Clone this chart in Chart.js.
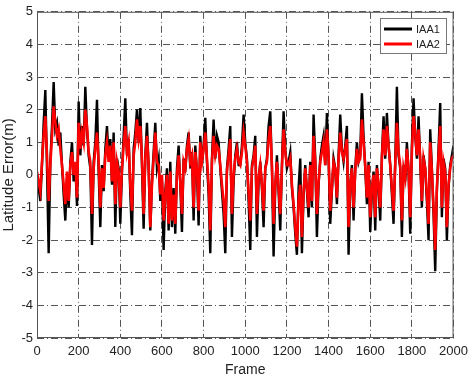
<!DOCTYPE html>
<html>
<head>
<meta charset="utf-8">
<script src="https://cdn.jsdelivr.net/npm/chart.js@4/dist/chart.umd.min.js"></script>
<style>
  html, body { margin: 0; padding: 0; background: #fff; }
  canvas { display: block; }
</style>
</head>
<body>
<canvas id="myChart" width="474" height="379"></canvas>
<script>
// latitude error (m), one value every 8 frames from 0 to 2000
const frameStep = 8;
const iaa1 = [
  0.0, -0.4, -0.8, 0.3, 1.6, 2.6, 0.2, -2.4, 0.4, 1.5,
  2.85, 1.4, 1.6, 0.9, 1.3, 0.3, -0.6, -1.4, -0.1, -1.0,
  0.4, 1.0, -0.2, 0.3, -0.95, 2.25, 0.6, 1.5, 0.9, 2.7,
  1.4, 0.6, 0.2, -2.15, 0.4, 1.0, 2.3, 0.1, -1.6, 0.3,
  -0.5, 0.8, 1.5, 0.5, 1.1, -0.3, 1.3, -1.6, 0.5, 0.2,
  -1.5, 0.1, 1.2, 2.35, 0.6, 1.1, -0.6, -1.85, 0.8, 1.3,
  2.0, 1.0, 2.05, 0.3, -1.65, 0.6, 1.6, 0.2, -1.7, -0.2,
  0.7, 1.6, 0.2, 0.5, -0.8, -0.2, -2.3, -0.5, 0.2, -1.7,
  0.4, -1.6, -0.4, -1.8, 0.2, 0.9, -0.3, -1.75, 0.5, 0.1,
  0.9, 1.3, 0.2, 0.7, -1.4, 0.9, 0.1, -1.55, 1.2, 0.3,
  0.9, 1.75, 0.4, -0.6, -2.4, 0.5, 1.7, 0.5, 1.2, 1.0,
  0.2, -0.5, -1.2, -2.4, 0.2, 0.8, 1.5, -1.9, -0.2, 0.6,
  1.0, 0.3, 0.3, 0.9, 1.85, 1.0, 0.5, -0.8, -2.3, 0.3,
  0.6, 1.2, -1.9, -0.2, 0.4, -0.4, -1.6, 0.2, 0.5, 1.5,
  1.95, 0.2, -2.5, -0.4, 0.6, -0.5, -1.7, 0.3, 1.95, 0.8,
  0.2, 0.4, 0.7, -0.4, -1.0, -1.8, -2.45, -0.4, 0.5, -2.4,
  -0.6, 0.3, -0.5, -1.3, 0.4, -1.0, 1.85, 0.5, -1.9, -0.3,
  0.5, 0.9, 1.2, 0.3, 1.9, 0.5, -1.5, -0.5, 0.5, 0.2,
  -0.9, 0.6, 1.85, 0.8, 0.4, 0.9, 1.5, -2.45, -0.3, 0.3,
  -1.4, 0.2, 1.0, 0.4, 0.6, 2.5, 1.2, 0.2, -0.9, 0.4,
  -1.75, -0.5, 0.1, -1.7, 0.3, -0.4, -1.4, 0.6, 1.8, 0.5,
  1.9, 0.9, 0.3, -0.6, -1.5, 0.4, 2.7, 0.6, 0.2, -1.9,
  0.3, -0.2, 1.0, 0.1, -1.8, 0.9, 2.35, 1.2, 0.5, 1.8,
  0.4, -1.0, 0.6, 0.2, -0.8, -2.0, 1.4, 0.2, -1.2, -2.95,
  -0.5, 0.8, 2.2, -1.3, 0.5, 0.2, -2.0, -0.4, 0.3, 0.6,
  0.9
];
const iaa2 = [
  0.1, -0.2, -0.5, 0.4, 1.2, 1.8, 0.6, -0.8, 0.3, 1.2,
  2.1, 1.6, 1.2, 1.4, 0.8, 0.3, -0.3, -0.9, 0.1, -0.8,
  0.3, 0.7, 0.0, 0.4, -0.7, 1.6, 0.8, 1.3, 1.0, 2.0,
  1.5, 0.7, 0.4, -1.2, 0.2, 0.8, 1.3, 0.4, -1.0, 0.2,
  -0.4, 0.6, 1.0, 0.4, 0.9, -0.2, 1.0, -0.9, 0.4, 0.1,
  -1.0, 0.2, 0.9, 1.5, 0.7, 1.0, -0.3, -1.1, 0.6, 1.0,
  1.7, 1.1, 1.5, 0.5, -1.2, 0.5, 1.2, 0.3, -1.6, -0.3,
  0.5, 1.3, 0.4, 0.3, -0.6, 0.0, -1.4, -0.6, 0.0, -1.5,
  0.1, -1.4, -0.6, -1.5, 0.0, 0.6, -0.2, -1.2, 0.4, 0.2,
  0.8, 1.1, 0.4, 0.6, -1.0, 0.7, 0.2, -1.1, 1.0, 0.4,
  0.8, 1.3, 0.5, -0.3, -1.7, 0.4, 1.2, 0.6, 0.9, 0.8,
  0.3, -0.3, -0.8, -1.6, 0.1, 0.6, 1.1, -1.2, 0.0, 0.5,
  0.8, 0.4, 0.3, 0.7, 1.3, 0.9, 0.4, -0.5, -1.4, 0.2,
  0.5, 0.9, -1.2, -0.1, 0.3, -0.3, -1.1, 0.2, 0.4, 1.1,
  1.5, 0.3, -1.5, -0.3, 0.4, -0.4, -1.2, 0.2, 1.4, 0.7,
  0.3, 0.3, 0.5, -0.3, -0.9, -1.6, -2.2, -0.8, -0.3, -1.9,
  -0.5, 0.2, -0.4, -1.0, 0.3, -0.8, 1.2, 0.4, -1.2, -0.2,
  0.4, 0.7, 1.0, 0.3, 1.4, 0.6, -1.1, -0.4, 0.4, 0.2,
  -0.7, 0.5, 1.3, 0.7, 0.5, 0.8, 1.1, -1.6, -0.3, 0.2,
  -1.0, 0.1, 0.8, 0.4, 0.5, 1.7, 1.0, 0.3, -0.7, 0.3,
  -1.3, -0.4, 0.0, -1.3, 0.2, -0.3, -1.0, 0.5, 1.4, 0.6,
  1.5, 0.9, 0.3, -0.4, -1.1, 0.3, 1.6, 0.7, 0.3, -1.4,
  0.2, -0.1, 0.8, 0.2, -1.3, 0.7, 1.8, 1.3, 0.6, 1.4,
  0.5, -0.8, 0.5, 0.2, -0.6, -1.5, 1.0, 0.1, -1.0, -2.3,
  -0.4, 0.6, 1.5, -1.0, 0.4, 0.1, -1.6, -0.3, 0.2, 0.5,
  0.6
];
const seriesNames = ['IAA1', 'IAA2'];
const xTitle = 'Frame';
const yTitle = 'Latitude Error(m)';

const toPoints = (ys) => ys.map((v, i) => ({ x: i * frameStep, y: v }));

const FONT = 'Liberation Sans, Arial, sans-serif';

// white page, box around the plot, and a MATLAB-like legend
const boxPlugin = {
  id: 'boxPlugin',
  beforeDraw(chart) {
    const c = chart.ctx;
    c.save();
    c.fillStyle = '#fff';
    c.fillRect(0, 0, chart.width, chart.height);
    c.restore();
  },
  afterDraw(chart) {
    const c = chart.ctx;
    const a = chart.chartArea;
    c.save();
    c.strokeStyle = '#555';
    c.lineWidth = 1;
    c.strokeRect(a.left + 0.5, a.top + 0.5, a.right - a.left - 1, a.bottom - a.top - 1);

    // legend
    const lx = 380, ly = 18, lw = 66, lh = 35;
    c.fillStyle = '#fff';
    c.fillRect(lx, ly, lw, lh);
    c.strokeStyle = '#777';
    c.strokeRect(lx + 0.5, ly + 0.5, lw, lh);
    c.font = '11px ' + FONT;
    c.textBaseline = 'middle';
    chart.data.datasets.forEach((ds, i) => {
      const y = ly + 11 + i * 15;
      c.strokeStyle = ds.borderColor;
      c.lineWidth = 3;
      c.beginPath();
      c.moveTo(lx + 4, y);
      c.lineTo(lx + 32, y);
      c.stroke();
      c.fillStyle = '#222';
      c.fillText(ds.label, lx + 36, y + 0.5);
    });
    c.restore();
  }
};

const ctx = document.getElementById('myChart').getContext('2d');
const myChart = new Chart(ctx, {
  type: 'line',
  data: {
    datasets: [{
      label: seriesNames[0],
      data: toPoints(iaa1),
      borderColor: 'rgb(0, 0, 0)',
      borderWidth: 2.4,
      pointRadius: 0,
      fill: false,
      tension: 0,
      order: 1
    }, {
      label: seriesNames[1],
      data: toPoints(iaa2),
      borderColor: 'rgb(255, 0, 0)',
      borderWidth: 2.6,
      pointRadius: 0,
      fill: false,
      tension: 0,
      order: 0
    }]
  },
  options: {
    responsive: false,
    animation: false,
    layout: { padding: { top: 5, right: 16, left: 0, bottom: 0 } },
    plugins: {
      legend: { display: false },
      tooltip: { enabled: false }
    },
    scales: {
      x: {
        type: 'linear',
        min: 0,
        max: 2000,
        ticks: {
          stepSize: 200, color: '#222', padding: 6, maxRotation: 0,
          font: { family: FONT, size: 13 },
          callback: (v) => String(v)
        },
        grid: { color: '#555', lineWidth: 1, drawTicks: false },
        border: { display: false, dash: [7, 3, 1, 3] },
        title: { display: true, text: xTitle, color: '#222', padding: { top: 0, bottom: 0 }, font: { family: FONT, size: 14 } },
        afterFit: (s) => { s.height = 41; }
      },
      y: {
        min: -5,
        max: 5,
        ticks: { stepSize: 1, color: '#222', padding: 4, font: { family: FONT, size: 13 } },
        grid: { color: '#555', lineWidth: 1, drawTicks: false },
        border: { display: false, dash: [7, 3, 1, 3] },
        title: { display: true, text: yTitle, color: '#222', padding: { top: 0, bottom: 0 }, font: { family: FONT, size: 15 } },
        afterFit: (s) => { s.width = 37; }
      }
    }
  },
  plugins: [boxPlugin]
});
</script>
</body>
</html>
